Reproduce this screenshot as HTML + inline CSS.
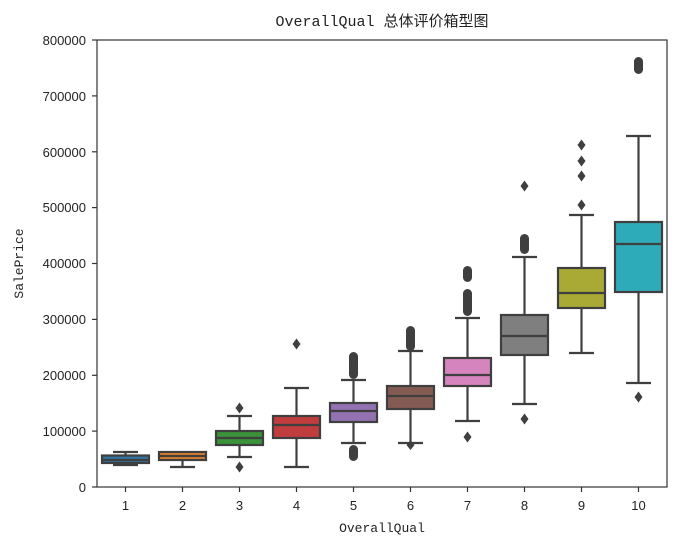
<!DOCTYPE html>
<html><head><meta charset="utf-8"><style>
html,body{margin:0;padding:0;background:#fff;}
svg{display:block;}
text{font-family:"Liberation Sans","Noto Sans CJK SC",sans-serif;fill:#222;}
.m{font-family:"Liberation Mono","Noto Sans CJK SC",monospace;}
</style></head><body>
<svg width="693" height="549" viewBox="0 0 693 549" xmlns="http://www.w3.org/2000/svg">
<rect width="693" height="549" fill="#fff"/>
<text x="382" y="26" class="m" font-size="15" text-anchor="middle">OverallQual 总体评价箱型图</text>
<g stroke="#3f3f3f" stroke-width="2.2" fill="none">
<!-- 1 -->
<line x1="125.5" y1="452" x2="125.5" y2="465"/><line x1="113" y1="452" x2="138" y2="452"/><line x1="113" y1="465" x2="138" y2="465"/>
<rect x="102" y="455.5" width="47" height="7.5" fill="#3274a1"/><line x1="102" y1="460" x2="149" y2="460"/>
<!-- 2 -->
<line x1="182.5" y1="452" x2="182.5" y2="467"/><line x1="170" y1="467" x2="195" y2="467"/>
<rect x="159" y="452" width="47" height="8" fill="#e1812c"/><line x1="159" y1="456" x2="206" y2="456"/>
<!-- 3 -->
<line x1="239.5" y1="416" x2="239.5" y2="457"/><line x1="227" y1="416" x2="252" y2="416"/><line x1="227" y1="457" x2="252" y2="457"/>
<rect x="216" y="431" width="47" height="14" fill="#3a923a"/><line x1="216" y1="438" x2="263" y2="438"/>
<!-- 4 -->
<line x1="296.5" y1="388" x2="296.5" y2="467"/><line x1="284" y1="388" x2="309" y2="388"/><line x1="284" y1="467" x2="309" y2="467"/>
<rect x="273" y="416" width="47" height="22" fill="#c03d3e"/><line x1="273" y1="425" x2="320" y2="425"/>
<!-- 5 -->
<line x1="353.5" y1="380" x2="353.5" y2="443"/><line x1="341" y1="380" x2="366" y2="380"/><line x1="341" y1="443" x2="366" y2="443"/>
<rect x="330" y="403" width="47" height="19" fill="#9372b2"/><line x1="330" y1="411" x2="377" y2="411"/>
<!-- 6 -->
<line x1="410.5" y1="351" x2="410.5" y2="443"/><line x1="398" y1="351" x2="423" y2="351"/><line x1="398" y1="443" x2="423" y2="443"/>
<rect x="387" y="386" width="47" height="23" fill="#845b53"/><line x1="387" y1="396" x2="434" y2="396"/>
<!-- 7 -->
<line x1="467.5" y1="318" x2="467.5" y2="421"/><line x1="455" y1="318" x2="480" y2="318"/><line x1="455" y1="421" x2="480" y2="421"/>
<rect x="444" y="358" width="47" height="28" fill="#d684bd"/><line x1="444" y1="375" x2="491" y2="375"/>
<!-- 8 -->
<line x1="524.5" y1="257" x2="524.5" y2="404"/><line x1="512" y1="257" x2="537" y2="257"/><line x1="512" y1="404" x2="537" y2="404"/>
<rect x="501" y="315" width="47" height="40" fill="#7f7f7f"/><line x1="501" y1="336" x2="548" y2="336"/>
<!-- 9 -->
<line x1="581.5" y1="215" x2="581.5" y2="353"/><line x1="569" y1="215" x2="594" y2="215"/><line x1="569" y1="353" x2="594" y2="353"/>
<rect x="558" y="268" width="47" height="40" fill="#a9aa35"/><line x1="558" y1="293" x2="605" y2="293"/>
<!-- 10 -->
<line x1="638.5" y1="136" x2="638.5" y2="383"/><line x1="626" y1="136" x2="651" y2="136"/><line x1="626" y1="383" x2="651" y2="383"/>
<rect x="615" y="222" width="47" height="70" fill="#2eabb8"/><line x1="615" y1="244" x2="662" y2="244"/>
</g>
<g fill="#3f3f3f">
<path d="M239.5 402.5L243.5 408L239.5 413.5L235.5 408Z"/>
<path d="M239.5 461.5L243.5 467L239.5 472.5L235.5 467Z"/>
<path d="M296.5 338.5L300.5 344L296.5 349.5L292.5 344Z"/>
<rect x="349" y="352" width="9" height="27" rx="4.5"/>
<rect x="349" y="445" width="9" height="16" rx="4.5"/>
<rect x="406" y="326" width="9" height="25" rx="4.5"/>
<path d="M410.5 440L414.5 445L410.5 450L406.5 445Z"/>
<rect x="463" y="266" width="9" height="16" rx="4.5"/>
<rect x="463" y="289" width="9" height="27" rx="4.5"/>
<path d="M467.5 431.5L471.5 437L467.5 442.5L463.5 437Z"/>
<path d="M524.5 180.5L528.5 186L524.5 191.5L520.5 186Z"/>
<rect x="520" y="234" width="9" height="20" rx="4.5"/>
<path d="M524.5 413.5L528.5 419L524.5 424.5L520.5 419Z"/>
<path d="M581.5 139.5L585.5 145L581.5 150.5L577.5 145Z"/>
<path d="M581.5 155.5L585.5 161L581.5 166.5L577.5 161Z"/>
<path d="M581.5 170.5L585.5 176L581.5 181.5L577.5 176Z"/>
<path d="M581.5 199.5L585.5 205L581.5 210.5L577.5 205Z"/>
<rect x="634" y="57" width="9" height="17" rx="4.5"/>
<path d="M638.5 391.5L642.5 397L638.5 402.5L634.5 397Z"/>
</g>
<rect x="97" y="40" width="570" height="447" fill="none" stroke="#333" stroke-width="1.2"/>
<g stroke="#333" stroke-width="1.2">
<line x1="92" y1="487" x2="97" y2="487"/><line x1="92" y1="431.1" x2="97" y2="431.1"/><line x1="92" y1="375.3" x2="97" y2="375.3"/><line x1="92" y1="319.4" x2="97" y2="319.4"/><line x1="92" y1="263.5" x2="97" y2="263.5"/><line x1="92" y1="207.6" x2="97" y2="207.6"/><line x1="92" y1="151.8" x2="97" y2="151.8"/><line x1="92" y1="95.9" x2="97" y2="95.9"/><line x1="92" y1="40" x2="97" y2="40"/>
<line x1="125.5" y1="487" x2="125.5" y2="492"/><line x1="182.5" y1="487" x2="182.5" y2="492"/><line x1="239.5" y1="487" x2="239.5" y2="492"/><line x1="296.5" y1="487" x2="296.5" y2="492"/><line x1="353.5" y1="487" x2="353.5" y2="492"/><line x1="410.5" y1="487" x2="410.5" y2="492"/><line x1="467.5" y1="487" x2="467.5" y2="492"/><line x1="524.5" y1="487" x2="524.5" y2="492"/><line x1="581.5" y1="487" x2="581.5" y2="492"/><line x1="638.5" y1="487" x2="638.5" y2="492"/>
</g>
<g font-size="13" text-anchor="end">
<text x="86" y="492">0</text><text x="86" y="436">100000</text><text x="86" y="380">200000</text><text x="86" y="324">300000</text><text x="86" y="268">400000</text><text x="86" y="212">500000</text><text x="86" y="157">600000</text><text x="86" y="101">700000</text><text x="86" y="45">800000</text>
</g>
<g font-size="13" text-anchor="middle">
<text x="125.5" y="510">1</text><text x="182.5" y="510">2</text><text x="239.5" y="510">3</text><text x="296.5" y="510">4</text><text x="353.5" y="510">5</text><text x="410.5" y="510">6</text><text x="467.5" y="510">7</text><text x="524.5" y="510">8</text><text x="581.5" y="510">9</text><text x="638.5" y="510">10</text>
</g>
<text x="382" y="532" class="m" font-size="13" text-anchor="middle">OverallQual</text>
<text transform="translate(23,263.5) rotate(-90)" class="m" font-size="13" text-anchor="middle">SalePrice</text>
</svg>
</body></html>
